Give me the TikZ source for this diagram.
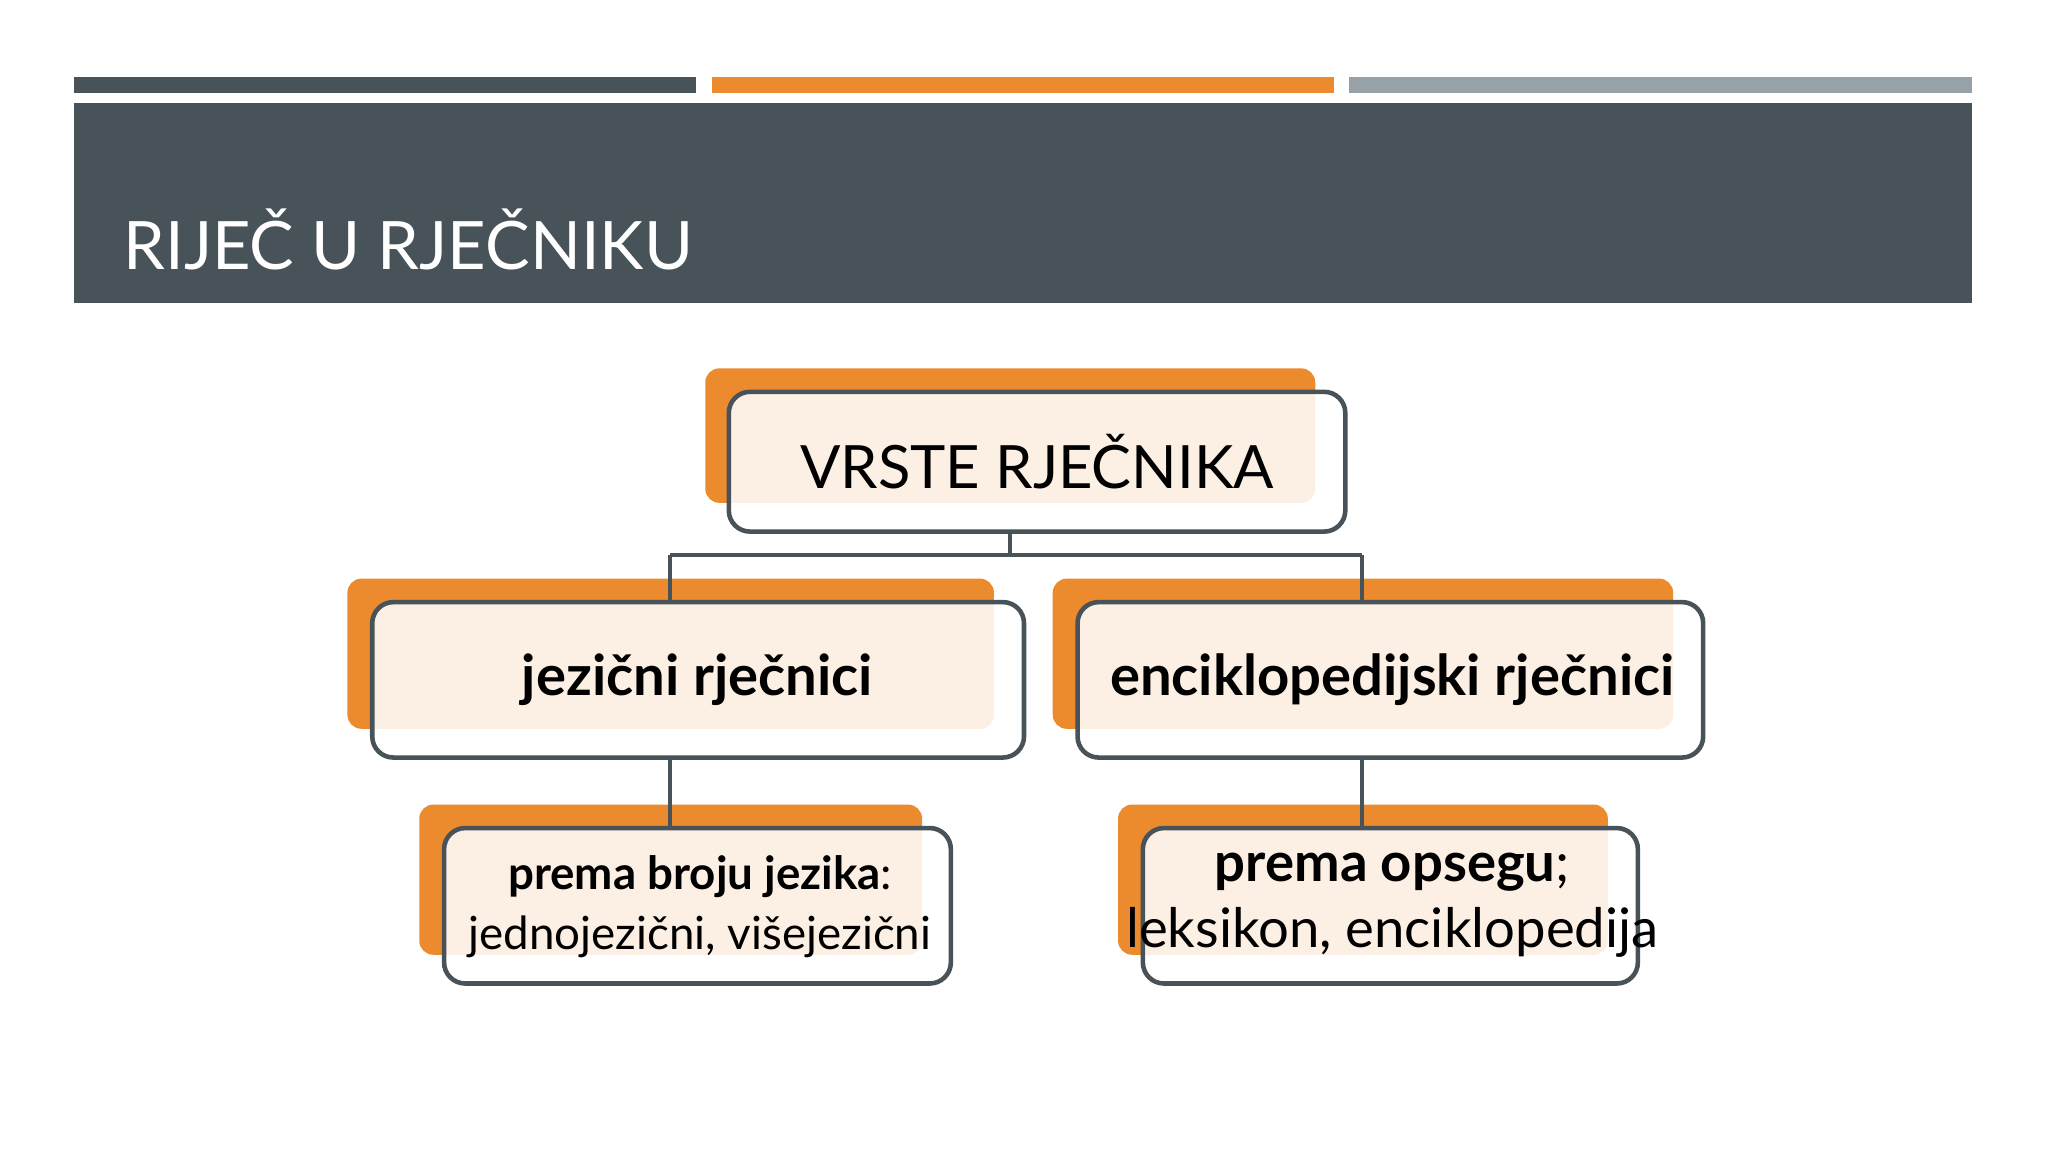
\documentclass[tikz,border=0pt]{standalone}
\usepackage{fontspec}
\setmainfont{Lato}
\definecolor{slate}{HTML}{475259}
\definecolor{orng}{HTML}{EC8A2E}
\definecolor{lgray}{HTML}{97A1A8}
\begin{document}
\begin{tikzpicture}[x=0.01306cm,y=-0.01306cm,
  back/.style={fill=orng,rounded corners=4pt},
  front/.style={draw=slate,line width=1.3pt,fill=white,fill opacity=0.87,rounded corners=6pt},
  conn/.style={draw=slate,line width=1.1pt}]
\useasboundingbox (0,0) rectangle (1568,882);
\fill[slate] (57,59) rectangle (533,71);
\fill[orng] (545,59) rectangle (1021,71);
\fill[lgray] (1033,59) rectangle (1510,71);
\fill[slate] (57,79) rectangle (1510,232);
\node[anchor=base west,text=white,font=\fontsize{19}{22}\selectfont] (title) at (85,206) {RIJEČ U RJEČNIKU};
% root
\fill[back] (540,282) rectangle (1007,385);
\draw[front] (558,300) rectangle (1030,407);
\node (root) at (794,353.5) {};
\node[font=\fontsize{17}{20}\selectfont] at (794,353.5) {VRSTE RJEČNIKA};
% level 2
\fill[back] (266,443) rectangle (761,558);
\draw[front] (285,461) rectangle (784,580);
\node[font=\bfseries\fontsize{16}{19}\selectfont] (jez) at (534,520.5) {jezični rječnici};
\fill[back] (806,443) rectangle (1281,558);
\draw[front] (825,461) rectangle (1304,580);
\node[font=\bfseries\fontsize{16}{19}\selectfont] (enc) at (1066,520.5) {enciklopedijski rječnici};
% level 3
\fill[back] (321,616) rectangle (706,731);
\draw[front] (340,634) rectangle (728,753);
\node[align=center,font=\fontsize{13}{17}\selectfont] (bro) at (536,694) {\textbf{prema broju jezika}:\\jednojezični, višejezični};
\fill[back] (856,616) rectangle (1231,731);
\draw[front] (875,634) rectangle (1254,753);
\node[align=center,font=\fontsize{15.5}{19}\selectfont] (ops) at (1066,693) {\textbf{prema opsegu};\\leksikon, enciklopedija};
% connectors
\coordinate (r1) at (773,407);
\coordinate (r2) at (773,425);
\coordinate (l1) at (513,461);
\coordinate (rr1) at (1043,461);
\draw[conn] (r1) -- (r2) (513,425) -- (1043,425);
\draw[conn] (513,425) -- (l1);
\draw[conn] (1043,425) -- (rr1);
\draw[conn] (513,580) -- (513,634);
\draw[conn] (1043,580) -- (1043,634);
\end{tikzpicture}
\end{document}
